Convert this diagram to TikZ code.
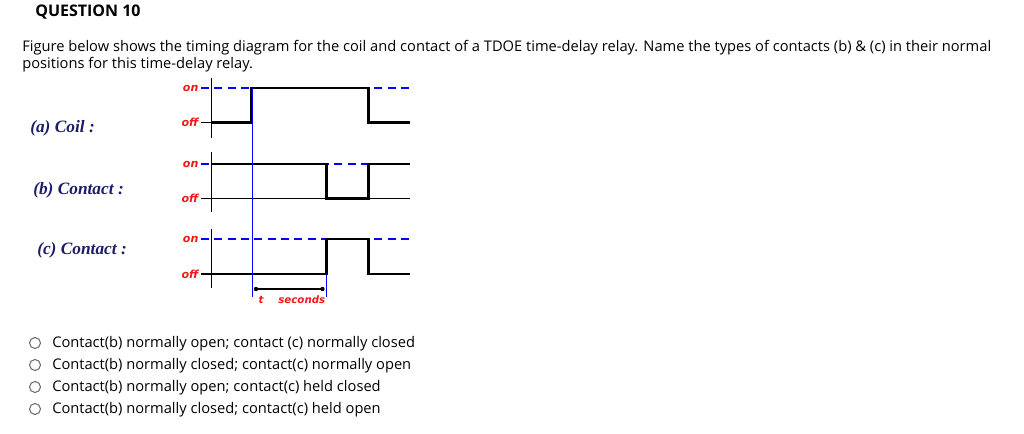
\documentclass[tikz,border=0pt]{standalone}
\usepackage{fontspec}
\setmainfont{Open Sans}
\newfontfamily\labelfont{Liberation Serif}
\newfontfamily\cadfont{DejaVu Sans}
\usetikzlibrary{positioning}
\definecolor{navylabel}{HTML}{1C1C6A}
\definecolor{cadred}{HTML}{F01818}
\definecolor{radiogrey}{HTML}{6E6E6E}

\begin{document}
\begin{tikzpicture}[x=0.75pt, y=-0.75pt,
        axis/.style={black, line width=1.1pt},
        signal/.style={black, line width=2.2pt},
        guide/.style={blue, line width=0.9pt, dash pattern=on 6pt off 4pt},
        marker/.style={blue, line width=1pt},
        level/.style={font=\cadfont\bfseries\itshape\fontsize{8.3}{9}\selectfont, text=cadred, anchor=east, inner sep=1pt},
        rowlabel/.style={font=\labelfont\bfseries\itshape\fontsize{13}{15}\selectfont, text=navylabel, anchor=west, inner sep=0pt},
        option/.style={font=\fontsize{11}{13}\selectfont, anchor=west, inner sep=0pt}]
    \useasboundingbox (0,0) rectangle (1024,434);
    % heading and question text
    \node[anchor=west, inner sep=0pt, font=\bfseries\fontsize{12}{14}\selectfont] (title) at (35,12) {QUESTION 10};
    \node[anchor=north west, inner sep=0pt, align=left, font=\fontsize{11}{12.75}\selectfont] (question) at (22,40)
        {Figure below shows the timing diagram for the coil and contact of a TDOE time-delay relay. Name the types of contacts (b) \& (c) in their normal\\
         positions for this time-delay relay.};
    % row labels
    \node[rowlabel] (coil) at (30,128) {(a) Coil :};
    \node[rowlabel] (contactb) at (33,190) {(b) Contact :};
    \node[rowlabel] (contactc) at (37,250) {(c) Contact :};
    % (a) coil
    \draw[guide] (201,88) -- (410,88);
    \draw[axis] (211.7,78) -- (211.7,138);
    \draw[axis] (201,122.7) -- (211.7,122.7);
    \node[level] (aon) at (200,88) {on};
    \node[level] (aoff) at (200,122.7) {off};
    \draw[signal] (211.7,122.7) -- (251.2,122.7) -- (251.2,88) -- (368.3,88) -- (368.3,122.7) -- (410,122.7);
    % (b) contact
    \draw[guide] (201,164) -- (368.3,164);
    \draw[axis] (211.7,152.3) -- (211.7,212.3);
    \draw[axis] (201,198.3) -- (410,198.3);
    \node[level] (bon) at (200,164) {on};
    \node[level] (boff) at (200,198.3) {off};
    \draw[signal] (211.7,164) -- (326.7,164) -- (326.7,198.3) -- (368.3,198.3) -- (368.3,164) -- (410,164);
    % (c) contact
    \draw[guide] (201,239) -- (410,239);
    \draw[axis] (211.7,229) -- (211.7,287.7);
    \draw[axis] (201,274) -- (211.7,274);
    \node[level] (con) at (200,239) {on};
    \node[level] (coff) at (200,274) {off};
    \draw[signal] (211.7,274) -- (326.7,274) -- (326.7,239) -- (368.3,239) -- (368.3,274) -- (410,274);
    % delay markers
    \draw[marker] (252.6,88) -- (252.6,297);
    \draw[marker] (326.7,274) -- (326.7,297);
    \coordinate (tstart) at (256,289);
    \coordinate (tend) at (322.5,289);
    \draw[black, line width=1pt] (tstart) -- (tend);
    \fill (tstart) circle (2.2);
    \fill (tend) circle (2.2);
    \node[font=\cadfont\bfseries\itshape\fontsize{7.7}{9}\selectfont, text=cadred, inner sep=0pt] (delay) at (292,300) {t\hspace{11pt}seconds};
    % answer options
    \foreach \ans [count=\i] in {Contact(b) normally open; contact (c) normally closed,
                                 Contact(b) normally closed; contact(c) normally open,
                                 Contact(b) normally open; contact(c) held closed,
                                 Contact(b) normally closed; contact(c) held open} {
        \draw[radiogrey, line width=0.8pt] (35,321+22*\i) circle (5.5);
        \node[option] (opt\i) at (52,322+22*\i) {\ans};
    }
\end{tikzpicture}
\end{document}
